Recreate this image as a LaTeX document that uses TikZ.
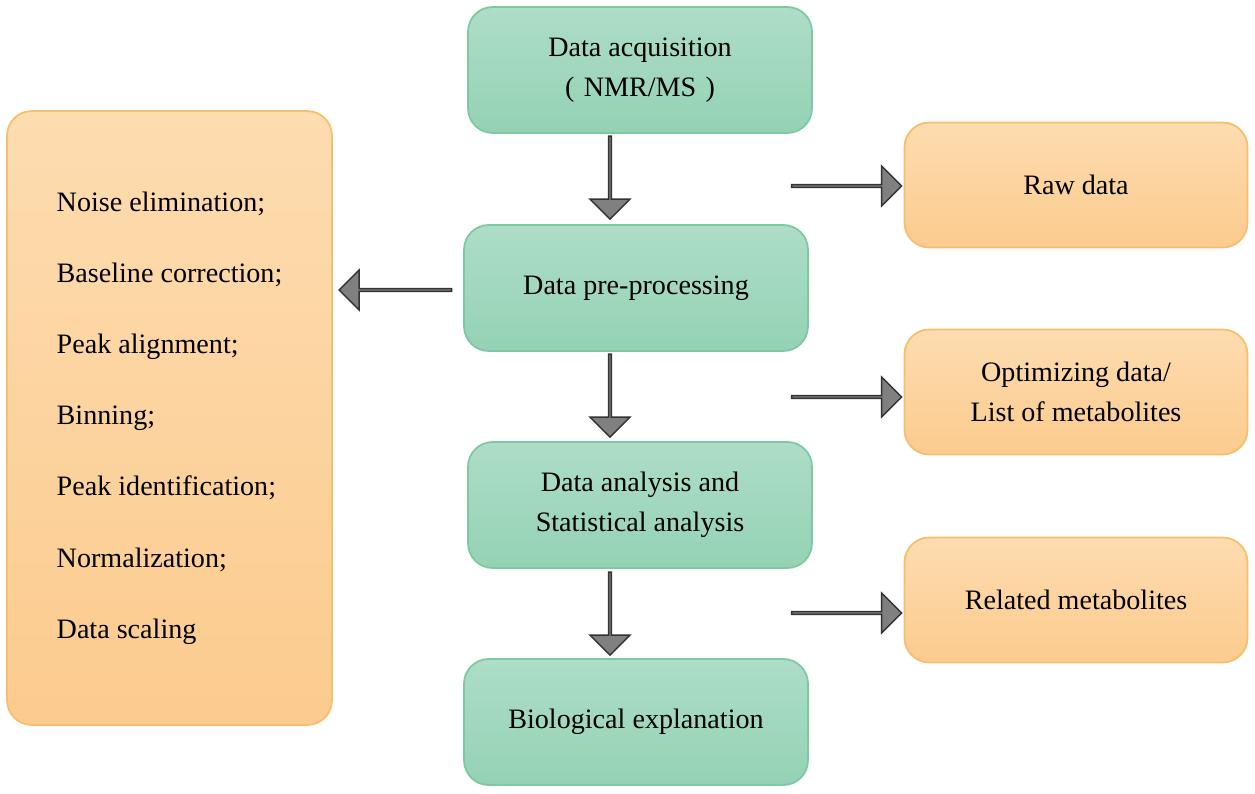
\documentclass[tikz,border=0pt]{standalone}
\usepackage{fontspec}
\setmainfont{Liberation Serif}
\usetikzlibrary{positioning, shapes.arrows, calc}

\definecolor{greentop}{HTML}{AEDDC8}
\definecolor{greenbot}{HTML}{94D2B4}
\definecolor{greenline}{HTML}{7DC9A2}
\definecolor{orangetop}{HTML}{FDDCB0}
\definecolor{orangebot}{HTML}{FCCB8E}
\definecolor{orangeline}{HTML}{F7BE6E}

\tikzset{
  stage/.style={rectangle, rounded corners=14pt, draw=greenline, line width=1pt,
    top color=greentop, bottom color=greenbot, minimum width=6.88cm,
    minimum height=2.52cm, align=center, font=\fontsize{16}{23}\selectfont},
  result/.style={rectangle, rounded corners=14pt, draw=orangeline, line width=1pt,
    top color=orangetop, bottom color=orangebot, minimum width=6.86cm,
    minimum height=2.5cm, align=center, font=\fontsize{16}{23}\selectfont},
  bigarrow/.style={single arrow, draw=black!80, fill=black!50, line width=0.8pt,
    minimum height=#1, minimum width=0.8cm, single arrow head extend=0.2cm,
    inner sep=0pt, single arrow head indent=0pt},
}

\begin{document}
\begin{tikzpicture}[x=0.02cm, y=-0.02cm]

   % Frame
      \useasboundingbox (0,0) rectangle (1255,794);

   % Main steps
      \node[stage]  (acq)  at (640,70)   {Data acquisition\\(\,\,NMR/MS\,\,)};
      \node[stage]  (pre)  at (636,288)  {Data pre-processing};
      \node[stage]  (ana)  at (640,505)  {Data analysis and\\Statistical analysis};
      \node[stage]  (bio)  at (636,722)  {Biological explanation};

   % Results
      \node[result] (raw)  at (1076,185) {Raw data};
      \node[result] (opt)  at (1076,392) {Optimizing data/\\List of metabolites};
      \node[result] (rel)  at (1076,600) {Related metabolites};

   % Pre-processing details
      \node[result, minimum width=6.5cm, minimum height=12.28cm, align=left,
            font=\fontsize{16}{40.5}\selectfont] (list) at (169.5,418)
        {Noise elimination;\\Baseline correction;\\Peak alignment;\\Binning;\\
         Peak identification;\\Normalization;\\Data scaling};

   % Block arrows
      \node[bigarrow=1.66cm, shape border rotate=270] (a1) at (610,177) {};
      \node[bigarrow=1.66cm, shape border rotate=270] (a2) at (610,395) {};
      \node[bigarrow=1.66cm, shape border rotate=270] (a3) at (610,613) {};
      \node[bigarrow=2.2cm]                         (r1) at (846,186) {};
      \node[bigarrow=2.2cm]                         (r2) at (846,397) {};
      \node[bigarrow=2.2cm]                         (r3) at (846,613) {};
      \node[bigarrow=2.25cm, shape border rotate=180] (l1) at (396,290) {};

\end{tikzpicture}
\end{document}
